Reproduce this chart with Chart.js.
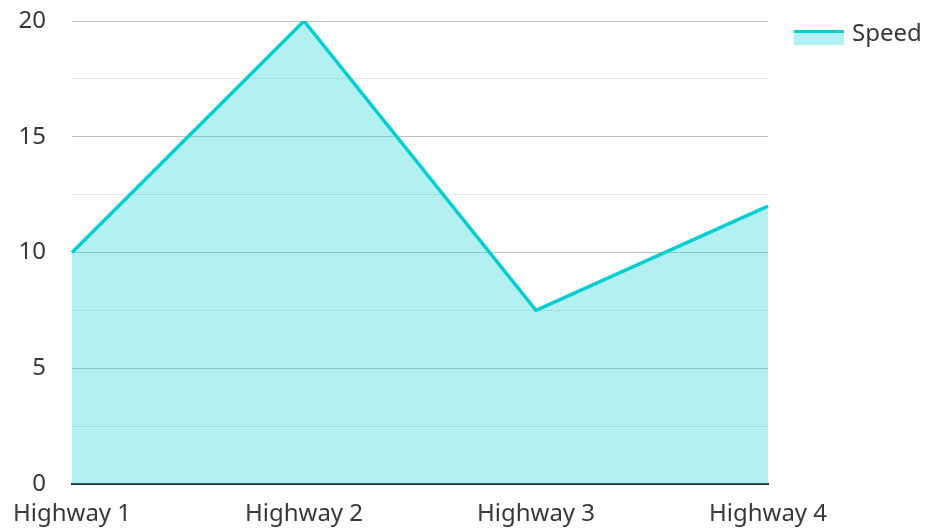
<!DOCTYPE html>
<html>
<head>
<meta charset="utf-8">
<script src="https://cdn.jsdelivr.net/npm/chart.js@4/dist/chart.umd.min.js"></script>
<style>
html,body{margin:0;padding:0;background:#fff;}
#wrap{width:925px;height:528px;position:relative;}
</style>
</head>
<body>
<div id="wrap"><canvas id="c" width="925" height="528"></canvas></div>
<script>
const categories = ["Highway 1", "Highway 2", "Highway 3", "Highway 4"];
const speedValues = [10, 20, 7.5, 12];
const seriesName = "Speed";
const yMin = 0, yMax = 20, yStep = 2.5, yLabelStep = 5;

const LINE = "rgb(0,206,209)";
const FILL = "rgba(0,206,209,0.3)";
const TEXT = "#383838";
const FONT = "'Noto Sans', 'Open Sans', sans-serif";
const FSIZE = 24;

const legendPlugin = {
  id: 'customLegend',
  afterDraw(chart) {
    const ctx = chart.ctx;
    const ds = chart.data.datasets[0];
    ctx.save();
    const x = 794, y = 30, w = 50, h = 15;
    ctx.fillStyle = FILL;
    ctx.fillRect(x, y, w, h);
    ctx.fillStyle = LINE;
    ctx.fillRect(x, y, w, 3);
    ctx.fillStyle = TEXT;
    ctx.font = FSIZE + "px " + FONT;
    ctx.textBaseline = "middle";
    ctx.textAlign = "left";
    ctx.fillText(ds.label, 852, 34);
    ctx.restore();
  }
};

new Chart(document.getElementById('c'), {
  type: 'line',
  data: {
    labels: categories,
    datasets: [{
      label: seriesName,
      data: speedValues,
      borderColor: LINE,
      backgroundColor: FILL,
      borderWidth: 3.5,
      fill: 'origin',
      tension: 0,
      pointRadius: 0,
      pointHoverRadius: 0
    }]
  },
  options: {
    responsive: false,
    animation: false,
    devicePixelRatio: 1,
    layout: { padding: { top: 21, right: 157, left: 0, bottom: 0 } },
    plugins: { legend: { display: false }, tooltip: { enabled: false } },
    scales: {
      x: {
        offset: false,
        grid: { display: false, drawTicks: false },
        border: { display: true, color: '#333333', width: 2 },
        ticks: { color: TEXT, font: { family: FONT, size: FSIZE }, padding: 16, maxRotation: 0, autoSkip: false },
        afterFit(scale) { scale.height = 44; scale.paddingLeft = 0; scale.paddingRight = 0; }
      },
      y: {
        min: yMin, max: yMax,
        grid: {
          drawTicks: false,
          color(ctx) {
            const v = ctx.tick ? ctx.tick.value : 0;
            return (Math.abs(v % yLabelStep) < 1e-6) ? '#c2c2c2' : '#e6e6e6';
          },
          lineWidth: 1
        },
        border: { display: false },
        ticks: {
          stepSize: yStep,
          color: TEXT,
          font: { family: FONT, size: FSIZE },
          padding: 26,
          callback(v) { return (Math.abs(v % yLabelStep) < 1e-6) ? String(v) : ''; }
        },
        afterFit(scale) { scale.width = 72; scale.paddingTop = 0; scale.paddingBottom = 0; }
      }
    }
  },
  plugins: [legendPlugin]
});
</script>
</body>
</html>
